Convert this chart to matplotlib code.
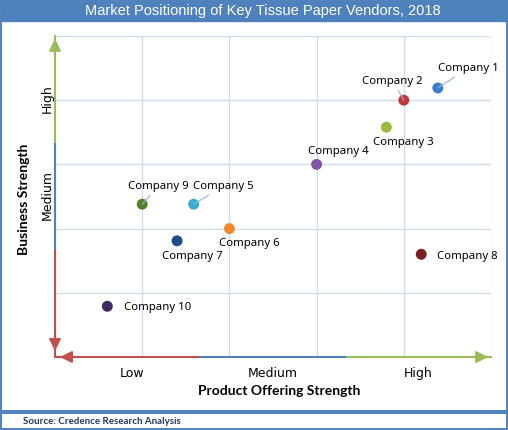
import numpy as np
import matplotlib.pyplot as plt
from matplotlib.patches import Rectangle

# --- Data ---
companies = ["Company 1", "Company 2", "Company 3", "Company 4", "Company 5",
             "Company 6", "Company 7", "Company 8", "Company 9", "Company 10"]
product_strength = [4.39, 4.0, 3.8, 3.0, 1.59, 2.0, 1.40, 4.2, 1.0, 0.6]
business_strength = [4.19, 4.0, 3.58, 3.0, 2.38, 2.0, 1.81, 1.6, 2.38, 0.79]
point_colors = ["#3a7dc9", "#c3393b", "#9bbb3b", "#7f56a8", "#3aaed0",
                "#f28a2a", "#1f4e87", "#7a1f1f", "#5a7f2a", "#3e2a5e"]

level_labels = ["Low", "Medium", "High"]
x_label_pos = [0.88, 2.5, 4.17]
y_label_pos = [1.0, 2.52, 4.03]

# label offsets in pixels (dx right, dy up) and whether a leader line is drawn
label_offsets = [(31, 20), (-11, 19), (17, -15), (22, 13), (30, 18),
                 (20, -15), (15, -16), (46, -2), (16, 18), (50, -1)]
leader = [True, True, False, False, True, False, False, False, True, False]

BLUE = "#4f81bd"
GRID = "#c9dbef"
RED = "#c0504d"
GREEN = "#9bbb59"

fig = plt.figure(figsize=(5.08, 4.30), dpi=100)
ax = fig.add_axes([55 / 508, 1 - 357 / 430, 436 / 508, 321 / 430])

ax.set_xlim(0, 5)
ax.set_ylim(0, 5)
ax.set_xticks(range(6))
ax.set_yticks(range(6))
ax.grid(True, color=GRID, linewidth=0.9)
ax.tick_params(which="major", length=0, labelbottom=False, labelleft=False)
for s in ax.spines.values():
    s.set_visible(False)

ax.set_xticks(x_label_pos, minor=True)
ax.set_xticklabels(level_labels, minor=True, fontsize=9)
ax.set_yticks(y_label_pos, minor=True)
ax.set_yticklabels(level_labels, minor=True, fontsize=9, rotation=90, va="center")
ax.tick_params(axis="x", which="minor", length=0, pad=7)
ax.tick_params(axis="y", which="minor", length=0, pad=1)

ax.set_xlabel("Product Offering Strength", fontsize=10, fontweight="bold",
              family="Lato")
ax.set_ylabel("Business Strength", fontsize=10, fontweight="bold", family="Lato")
ax.xaxis.set_label_coords(0.515, -0.088)
ax.yaxis.set_label_coords(-0.058, 0.49)

# coloured axis arrows
tr = ax.transAxes
ax.plot([0, 0.33], [0, 0], color=RED, lw=1.5, transform=tr, clip_on=False)
ax.plot([0.335, 0.665], [0, 0], color=BLUE, lw=1.5, transform=tr, clip_on=False)
ax.plot([0.67, 1.0], [0, 0], color=GREEN, lw=1.5, transform=tr, clip_on=False)
ax.plot([0, 0], [0, 0.33], color=RED, lw=1.5, transform=tr, clip_on=False)
ax.plot([0, 0], [0.335, 0.665], color=BLUE, lw=1.5, transform=tr, clip_on=False)
ax.plot([0, 0], [0.67, 1.0], color=GREEN, lw=1.5, transform=tr, clip_on=False)
arrow = dict(arrowstyle="-|>,head_length=0.7,head_width=0.35", lw=1.5)
ax.annotate("", xy=(1.0, 0), xytext=(0.95, 0), xycoords=tr,
            arrowprops=dict(arrow, color=GREEN), annotation_clip=False)
ax.annotate("", xy=(0.005, 0), xytext=(0.06, 0), xycoords=tr,
            arrowprops=dict(arrow, color=RED), annotation_clip=False)
ax.annotate("", xy=(0, 1.0), xytext=(0, 0.93), xycoords=tr,
            arrowprops=dict(arrow, color=GREEN), annotation_clip=False)
ax.annotate("", xy=(0, 0.01), xytext=(0, 0.08), xycoords=tr,
            arrowprops=dict(arrow, color=RED), annotation_clip=False)

# points
ax.scatter(product_strength, business_strength, s=62, c=point_colors,
           zorder=5, edgecolors="none")

for name, x, y, (dx, dy), line in zip(companies, product_strength,
                                       business_strength, label_offsets, leader):
    props = dict(arrowstyle="-", color="#8db3e2", lw=0.8, shrinkA=1, shrinkB=0) if line else None
    ax.annotate(name, xy=(x, y), xytext=(dx * 0.72, dy * 0.72),
                textcoords="offset points", ha="center", va="center",
                fontsize=8.2, family="Noto Sans", color="black",
                arrowprops=props, zorder=6)

# frame, title bar and source row
fig.patches.append(Rectangle((0.002, 1 - 411 / 430), 0.996, 411 / 430 - 0.003,
                             transform=fig.transFigure, fill=False,
                             edgecolor=BLUE, lw=1.4))
fig.patches.append(Rectangle((0.002, 1 - 21 / 430), 0.996, 21 / 430 - 0.002,
                             transform=fig.transFigure, facecolor=BLUE,
                             edgecolor=BLUE, lw=1))
fig.patches.append(Rectangle((0.002, 0.003), 0.996, 16 / 430,
                             transform=fig.transFigure, fill=False,
                             edgecolor=BLUE, lw=1.4))
fig.text(263 / 508, 1 - 11 / 430, "Market Positioning of Key Tissue Paper Vendors, 2018",
         ha="center", va="center", color="white", fontsize=10.5,
         family="Liberation Sans")
fig.text(23 / 508, 1 - 421 / 430, "Source: Credence Research Analysis",
         ha="left", va="center", color="#1f3864", fontsize=7, fontweight="bold",
         family="Lato")

fig.savefig("out.png", dpi=100)
